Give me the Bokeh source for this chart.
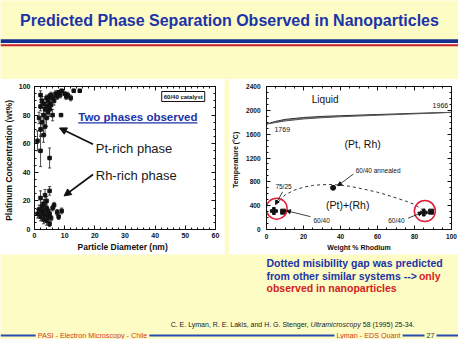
from bokeh.plotting import figure
from bokeh.layouts import row, column
from bokeh.models import (Range1d, Label, Arrow, NormalHead, TeeHead, Whisker,
                          ColumnDataSource, LinearAxis, SingleIntervalTicker, Span)
from bokeh.embed import file_html
from bokeh.resources import INLINE

YELLOW = "#fdfcc4"
FONT = "Liberation Sans"
BLUE = "#1c33a8"
RED = "#d42020"

# ---------------- data: left chart (particle composition) ----------------
pt_d = [1.0, 1.5, 2.0, 2.0, 2.0, 2.5, 2.5, 3.0, 3.0, 3.0, 3.5, 3.5, 4.0, 4.0, 4.0,
        4.5, 4.5, 5.0, 5.0, 5.0, 5.5, 5.5, 6.0, 6.0, 6.5, 7.0, 7.5, 8.0, 8.5, 9.0,
        10.0, 10.5, 11.0, 12.0, 13.0, 15.0, 8.8, 5.0, 2.0]
pt_c = [62, 78, 55, 70, 86, 75, 90, 66, 80, 88, 72, 84, 78, 86, 92,
        82, 90, 84, 88, 93, 87, 94, 80, 92, 90, 95, 93, 96, 94, 97,
        95, 93, 94, 92, 97, 97, 80, 50, 94]
pt_err = [7, 4, 11, 5, 3, 6, 3, 5, 5, 3, 6, 4, 6, 3, 2,
          4, 3, 5, 3, 2, 3, 2, 4, 2, 3, 2, 2, 1, 2, 1,
          1, 2, 2, 2, 1, 1, 0, 7, 3]
rh_d = [1.0, 1.5, 2.0, 2.0, 2.5, 2.5, 3.0, 3.0, 3.0, 3.5, 3.5, 4.0, 4.0, 4.0, 4.5,
        4.5, 5.0, 5.0, 5.0, 5.5, 6.0, 6.5, 7.5, 8.0, 9.0]
rh_c = [11, 14, 22, 9, 16, 12, 18, 7, 13, 24, 10, 6, 15, 20, 9,
        13, 4, 27, 11, 8, 15, 17, 12, 9, 13]
rh_err = [3, 3, 5, 3, 3, 2, 3, 3, 3, 4, 3, 3, 3, 3, 2,
          2, 2, 3, 2, 2, 2, 2, 2, 2, 2]

# ---------------- data: right chart (Pt-Rh phase diagram) ----------------
liq_w = [0, 5, 10, 20, 30, 40, 50, 60, 70, 80, 90, 100]
liq_T = [1769, 1815, 1848, 1880, 1898, 1910, 1920, 1930, 1940, 1950, 1958, 1966]
sol_T = [1769, 1795, 1822, 1855, 1876, 1892, 1905, 1917, 1929, 1941, 1953, 1966]
gap_w = [7, 10, 15, 20, 25, 30, 35, 40, 45, 50, 55, 60, 65, 70, 75, 80, 84]
gap_T = [480, 580, 660, 710, 740, 752, 755, 745, 725, 695, 660, 625, 580, 530, 480, 420, 340]
annealed_w = [36]
annealed_T = [700]
sq_w = [9, 89]
sq_T = [300, 300]
plus_w = [4, 85]
plus_T = [310, 285]
ring_w = [5.5, 85.6]
ring_T = [350, 310]


def deco_fig(w, h, xr, yr):
    f = figure(width=w, height=h, x_range=xr, y_range=yr, output_backend="svg",
               toolbar_location=None, x_axis_type=None, y_axis_type=None, min_border=0)
    f.background_fill_color = YELLOW
    f.border_fill_color = YELLOW
    f.outline_line_color = None
    return f


def style_axes(p, tick_size, label_size, tick_standoff, label_standoff):
    for ax in p.axis:
        ax.major_label_text_font = FONT
        ax.major_label_text_font_style = "bold"
        ax.major_label_text_font_size = tick_size
        ax.axis_label_text_font = FONT
        ax.axis_label_text_font_style = "bold"
        ax.axis_label_text_font_size = label_size
        ax.major_label_standoff = tick_standoff
        ax.axis_label_standoff = label_standoff
        ax.major_tick_in = 4
        ax.major_tick_out = 0
        ax.minor_tick_in = 2
        ax.minor_tick_out = 0
        ax.axis_line_color = "#111111"
        ax.major_tick_line_color = "#111111"
        ax.minor_tick_line_color = "#111111"
        ax.major_label_text_color = "#111111"
        ax.axis_label_text_color = "#111111"


def add_mirror_axes(p, xt, yt):
    for loc, tick in (("above", xt), ("right", yt)):
        ax = LinearAxis(ticker=tick, major_label_text_font_size="1px",
                        major_label_text_alpha=0, major_label_standoff=0,
                        major_tick_in=4, major_tick_out=0,
                        minor_tick_in=2, minor_tick_out=0, axis_line_color=None,
                        major_tick_line_color="#111111", minor_tick_line_color="#111111")
        p.add_layout(ax, loc)


# ---------------- header ----------------
hdr = deco_fig(458, 79, Range1d(0, 458), Range1d(79, 0))
hdr.add_layout(Label(x=229, y=20, text="Predicted Phase Separation Observed in Nanoparticles",
                     text_align="center", text_baseline="middle", text_font=FONT,
                     text_font_style="bold", text_font_size="16px", text_color=BLUE))
hdr.add_layout(Span(location=40.7, dimension="width", line_color="#14308f", line_width=4))
hdr.add_layout(Span(location=43.3, dimension="width", line_color="white", line_width=1))
hdr.add_layout(Span(location=44.8, dimension="width", line_color="#c81e2a", line_width=2))

# ---------------- left chart ----------------
lp = figure(width=224, height=175, x_range=Range1d(0, 60), y_range=Range1d(0, 100),
            output_backend="svg", toolbar_location=None,
            min_border_left=29, min_border_right=9, min_border_top=6, min_border_bottom=23)
lp.background_fill_color = "white"
lp.border_fill_color = "white"
lp.outline_line_color = "#111111"
lp.grid.visible = False
lxt = SingleIntervalTicker(interval=10, num_minor_ticks=5)
lyt = SingleIntervalTicker(interval=20, num_minor_ticks=4)
lp.xaxis.ticker = lxt
lp.yaxis.ticker = lyt
lp.xaxis.axis_label = "Particle  Diameter  (nm)"
lp.yaxis.axis_label = "Platinum  Concentration  (wt%)"
style_axes(lp, "7px", "8.5px", 3, 2)
lp.yaxis[0].major_label_standoff = 4
lp.xaxis[0].axis_label_standoff = 1
add_mirror_axes(lp, lxt, lyt)

for d, c, e in ((pt_d, pt_c, pt_err), (rh_d, rh_c, rh_err)):
    src = ColumnDataSource(dict(x=d, y=c, up=[a + b for a, b in zip(c, e)],
                                lo=[a - b for a, b in zip(c, e)]))
    lp.add_layout(Whisker(source=src, base="x", upper="up", lower="lo", dimension="height",
                          line_color="#222222", line_width=0.8,
                          upper_head=TeeHead(size=3, line_color="#222222", line_width=0.8),
                          lower_head=TeeHead(size=3, line_color="#222222", line_width=0.8)))
    lp.scatter("x", "y", source=src, marker="square", size=3.5, color="#111111")

lp.add_layout(Label(x=49.3, y=93, text="60/40 catalyst", text_align="center",
                    text_baseline="middle", text_font=FONT, text_font_style="bold",
                    text_font_size="6px", text_color="#111111", border_line_color="#111111",
                    border_line_width=1, background_fill_color="white", padding=2))
lp.add_layout(Label(x=14.5, y=78.8, text="Two phases observed", text_baseline="middle",
                    text_font=FONT, text_font_style="bold", text_font_size="11.5px",
                    text_color=BLUE))
lp.segment(x0=[14.5], y0=[74.5], x1=[54.0], y1=[74.5], line_color=BLUE, line_width=1.2)
lp.add_layout(Label(x=20.3, y=56.8, text="Pt-rich phase", text_baseline="middle",
                    text_font=FONT, text_font_size="13px", text_color="#1a1a1a"))
lp.add_layout(Label(x=20.3, y=37.7, text="Rh-rich phase", text_baseline="middle",
                    text_font=FONT, text_font_size="13px", text_color="#1a1a1a"))
for xs, ys, xe, ye in ((19.4, 59.6, 8.3, 71.0), (19.4, 38.4, 9.8, 23.5)):
    lp.add_layout(Arrow(end=NormalHead(size=7, fill_color="#111111", line_color="#111111"),
                        x_start=xs, y_start=ys, x_end=xe, y_end=ye,
                        line_color="#111111", line_width=1.8))

# ---------------- gap between images ----------------
gap = deco_fig(5, 175, Range1d(0, 1), Range1d(0, 1))

# ---------------- right chart ----------------
rp = figure(width=229, height=175, x_range=Range1d(0, 100), y_range=Range1d(0, 2400),
            output_backend="svg", toolbar_location=None,
            min_border_left=37, min_border_right=7, min_border_top=7, min_border_bottom=24)
rp.background_fill_color = "white"
rp.border_fill_color = "white"
rp.outline_line_color = "#111111"
rp.grid.visible = False
rxt = SingleIntervalTicker(interval=20, num_minor_ticks=4)
ryt = SingleIntervalTicker(interval=400, num_minor_ticks=4)
rp.xaxis.ticker = rxt
rp.yaxis.ticker = ryt
rp.xaxis.axis_label = "Weight % Rhodium"
rp.yaxis.axis_label = "Temperature   (°C)"
style_axes(rp, "6.5px", "7px", 4, 2)
rp.yaxis[0].major_label_standoff = 6
rp.yaxis[0].axis_label_standoff = 4
add_mirror_axes(rp, rxt, ryt)

rp.varea(x=liq_w, y1=sol_T, y2=liq_T, fill_color="#888888")
rp.line(liq_w, liq_T, line_color="#333333", line_width=1)
rp.line(liq_w, sol_T, line_color="#555555", line_width=1)
rp.line(gap_w, gap_T, line_color="#333333", line_width=1, line_dash="3 3")
rp.scatter(annealed_w, annealed_T, marker="circle", size=5, color="#111111")
rp.scatter(sq_w, sq_T, marker="square", size=5, color="#111111")
rp.scatter(plus_w, plus_T, marker="plus", size=7, color="#111111")
rp.scatter(ring_w, ring_T, marker="circle", size=21, fill_color=None,
           line_color="#e0203a", line_width=1.5)

for x, y, t, size, align in ((31.7, 2175, "Liquid", "10px", "center"),
                             (94.0, 2075, "1966", "7px", "center"),
                             (4.3, 1677, "1769", "7px", "left"),
                             (52.0, 1428, "(Pt, Rh)", "10.5px", "center"),
                             (43.9, 415, "(Pt)+(Rh)", "10.5px", "center"),
                             (48.2, 996, "60/40 annealed", "6.5px", "left"),
                             (9.2, 714, "75/25", "6.5px", "center"),
                             (29.8, 150, "60/40", "6.5px", "center"),
                             (70.2, 150, "60/40", "6.5px", "center")):
    rp.add_layout(Label(x=x, y=y, text=t, text_align=align, text_baseline="middle",
                        text_font=FONT, text_font_size=size, text_color="#111111"))
for xs, ys, xe, ye in ((47.0, 930, 38.5, 735), (8.7, 631, 4.9, 420),
                       (23.8, 216, 10.8, 315), (76.5, 190, 84.2, 285)):
    rp.add_layout(Arrow(end=NormalHead(size=4, fill_color="#111111", line_color="#111111"),
                        x_start=xs, y_start=ys, x_end=xe, y_end=ye,
                        line_color="#111111", line_width=0.8))

# ---------------- bottom text ----------------
bot = deco_fig(458, 85, Range1d(0, 458), Range1d(85, 0))
for x, y, t, col, align in ((266, 8.7, "Dotted misibility gap was predicted", BLUE, "left"),
                            (266, 21.3, "from other similar systems -->", BLUE, "left"),
                            (440, 21.3, "only", RED, "right"),
                            (266, 33.7, "observed in nanoparticles", RED, "left")):
    bot.add_layout(Label(x=x, y=y, text=t, text_align=align, text_baseline="middle",
                         text_font=FONT, text_font_style="bold", text_font_size="10.5px",
                         text_color=col))
for x, t, style, align in ((308, "C. E. Lyman, R. E. Lakis, and H. G. Stenger,", "normal", "right"),
                           (310, "Ultramicroscopy", "italic", "left"),
                           (414, "58 (1995) 25-34.", "normal", "right")):
    bot.add_layout(Label(x=x, y=70, text=t, text_align=align, text_baseline="middle",
                         text_font=FONT, text_font_style=style, text_font_size="7px",
                         text_color="#222222"))
bot.add_layout(Span(location=81, dimension="width", line_color="#2a4bb0", line_width=2))
for x, t, col in ((92, "PASI - Electron Microscopy - Chile", "#d0401e"),
                  (368, "Lyman - EDS Quant", "#d0401e"),
                  (430, "27", "#333333")):
    bot.add_layout(Label(x=x, y=80.8, text=t, text_align="center", text_baseline="middle",
                         text_font=FONT, text_font_size="7.2px", text_color=col,
                         background_fill_color=YELLOW, padding=2))

layout = column(hdr, row(lp, gap, rp), bot)
open("out.html", "w").write(file_html(layout, INLINE))
